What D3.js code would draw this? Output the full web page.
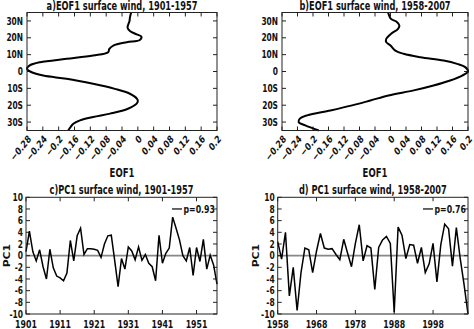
<!DOCTYPE html>
<html><head><meta charset="utf-8">
<script src="https://cdn.jsdelivr.net/npm/d3@7"></script>
<style>
html,body{margin:0;padding:0;background:#fff;}
svg text{font-family:'DejaVu Sans Condensed','DejaVu Sans',sans-serif;font-weight:bold;fill:#111;}
</style></head>
<body><svg id="c" width="474" height="329"></svg>
<script>
// ---- data ----
const eofALat = [35,32,30,26,24,22,20.7,18.7,17.4,15.4,13.4,11.4,9.5,7.5,5.5,3.5,1.6,0,-2.4,-4.3,-7.3,-10.3,-13.2,-16.2,-17.6,-19.1,-22.1,-25,-27,-29,-31,-33,-35];
const eofAVal = [-0.017,-0.02,-0.021,-0.026,-0.02,-0.003,0.009,0.005,-0.028,-0.062,-0.072,-0.075,-0.113,-0.18,-0.247,-0.274,-0.28,-0.272,-0.239,-0.18,-0.113,-0.058,-0.02,-0.002,0.0,-0.003,-0.025,-0.07,-0.113,-0.146,-0.163,-0.17,-0.176];
const eofBLat = [35,34.1,31.2,29.6,27.2,25.2,22.3,19.3,17.4,15.4,12.4,10.5,8.5,6.5,4.5,2.6,0,-2.4,-5.3,-8.3,-11.2,-14.2,-17.2,-20.1,-23.1,-26,-28,-30,-32,-35];
const eofBVal = [-0.006,-0.005,0.001,0.015,0.023,0.019,0.001,-0.011,-0.011,0.0,0.0125,0.034,0.077,0.137,0.172,0.193,0.2,0.185,0.154,0.111,0.06,-0.005,-0.052,-0.099,-0.155,-0.215,-0.234,-0.237,-0.22,-0.185];
const pcCStart = 1901;
const pcCVals = [0.7,4.2,0.7,-0.9,1.0,-1.9,-4.0,1.1,-2.1,-3.5,-3.8,-4.3,-3.0,2.6,-0.9,3.4,4.7,0.2,1.2,1.2,1.1,0.9,-0.3,2.0,3.4,3.5,-0.8,-5.3,-0.5,-2.3,1.5,0.8,-0.7,1.5,-0.8,0.2,-1.3,-1.9,-4.3,3.5,-1.3,0.4,1.3,6.6,4.7,2.7,0.0,-0.9,1.4,-3.4,1.4,-1.0,2.8,-2.3,0.1,-1.6,-4.9];
const pcDStart = 1958;
const pcDVals = [2.4,-0.6,4.0,-6.9,-2.0,-9.4,-2.9,1.3,1.0,-2.9,0.8,3.8,1.3,1.1,1.2,0.2,-0.7,2.8,0.4,-1.9,2.1,5.3,-0.9,1.7,1.3,-5.8,1.4,2.7,3.3,2.1,-9.7,4.9,3.5,-0.5,1.9,1.8,-1.3,1.4,-2.9,-1.4,2.1,-4.5,1.9,5.4,4.6,-1.8,4.8,-0.5,-5.0,-10.0];
const eofTicks = [-0.28,-0.24,-0.2,-0.16,-0.12,-0.08,-0.04,0,0.04,0.08,0.12,0.16,0.2];
const latTicks = [30,20,10,0,-10,-20,-30];
const latLabels = ["30N","20N","10N","0","10S","20S","30S"];
const pcTicks = [-10,-8,-6,-4,-2,0,2,4,6,8,10];
const yearTicksC = [1901,1911,1921,1931,1941,1951];
const yearTicksD = [1958,1968,1978,1988,1998];
const titles = ["a)EOF1 surface wind, 1901-1957","b)EOF1 surface wind, 1958-2007","c)PC1 surface wind, 1901-1957","d) PC1 surface wind, 1958-2007"];
const legendLabels = ["p=0.93","p=0.76"];

const svg = d3.select("#c");
const TL = 4;
const SX = 0.79; // horizontal squeeze of the lettering

function txt(g, x, y, s, size, anchor, rot, dy){
  return g.append("text")
    .attr("transform", `translate(${x},${y}) scale(${SX},1)` + (rot ? ` rotate(${rot})` : ""))
    .attr("text-anchor", anchor || "start")
    .attr("dy", dy || null)
    .style("font-size", size + "px")
    .text(s);
}

function frame(g, x0, x1, y0, y1){
  g.append("rect").attr("x",x0).attr("y",y0).attr("width",x1-x0).attr("height",y1-y0)
    .attr("fill","none").attr("stroke","#222").attr("stroke-width",1);
}

function eofPanel(lats, vals, x0, x1, title){
  const y0 = 12.5, y1 = 130.5;
  const x = d3.scaleLinear().domain([-0.28,0.2]).range([x0,x1]);
  const y = d3.scaleLinear().domain([35,-35]).range([y0,y1]);
  const g = svg.append("g");
  eofTicks.forEach(t=>{
    g.append("line").attr("x1",x(t)).attr("x2",x(t)).attr("y1",y0).attr("y2",y0+TL).attr("stroke","#222");
    g.append("line").attr("x1",x(t)).attr("x2",x(t)).attr("y1",y1).attr("y2",y1-TL).attr("stroke","#222");
    txt(g, x(t)+2.5, y1+6.5, d3.format("")(t), 10.5, "end", -45, "0.35em");
  });
  latTicks.forEach((t,i)=>{
    g.append("line").attr("x1",x0).attr("x2",x0+TL).attr("y1",y(t)).attr("y2",y(t)).attr("stroke","#222");
    g.append("line").attr("x1",x1).attr("x2",x1-TL).attr("y1",y(t)).attr("y2",y(t)).attr("stroke","#222");
    txt(g, x0-4, y(t), latLabels[i], 10.5, "end", 0, "0.35em");
  });
  const data = lats.map((l,i)=>[vals[i],l]);
  g.append("path").datum(data).attr("fill","none").attr("stroke","#000").attr("stroke-width",2)
    .attr("d", d3.line().x(d=>x(d[0])).y(d=>y(d[1])).curve(d3.curveCatmullRom));
  frame(g,x0,x1,y0,y1);
  txt(g, (x0+x1)/2, 10, title, 11.6, "middle");
  txt(g, (x0+x1)/2, 176.5, "EOF1", 12, "middle");
}

function pcPanel(start, vals, yearTicks, x0, x1, title, leg, ylabX){
  const y0 = 197.3, y1 = 314;
  const x = d3.scaleLinear().domain([start, start+vals.length-1]).range([x0,x1]);
  const y = d3.scaleLinear().domain([10,-10]).range([y0,y1]);
  const g = svg.append("g");
  g.append("line").attr("x1",x0).attr("x2",x1).attr("y1",y(0)).attr("y2",y(0)).attr("stroke","#888").attr("stroke-width",1.6);
  yearTicks.forEach(t=>{
    g.append("line").attr("x1",x(t)).attr("x2",x(t)).attr("y1",y0).attr("y2",y0+TL).attr("stroke","#222");
    g.append("line").attr("x1",x(t)).attr("x2",x(t)).attr("y1",y1).attr("y2",y1-TL).attr("stroke","#222");
    txt(g, x(t), 328, String(t), 11, "middle");
  });
  pcTicks.forEach(t=>{
    g.append("line").attr("x1",x0).attr("x2",x0+TL).attr("y1",y(t)).attr("y2",y(t)).attr("stroke","#222");
    g.append("line").attr("x1",x1).attr("x2",x1-TL).attr("y1",y(t)).attr("y2",y(t)).attr("stroke","#222");
    txt(g, x0-3, y(t), String(t), 10.6, "end", 0, "0.35em");
  });
  const data = vals.map((v,i)=>[start+i,v]);
  g.append("path").datum(data).attr("fill","none").attr("stroke","#000").attr("stroke-width",1.5)
    .attr("d", d3.line().x(d=>x(d[0])).y(d=>y(d[1])));
  frame(g,x0,x1,y0,y1);
  txt(g, (x0+x1)/2, 194, title, 11.6, "middle");
  txt(g, ylabX, (y0+y1)/2, "PC1", 12, "middle", -90, "0.35em");
  const ly = y(8);
  g.append("line").attr("x1",x1-45).attr("x2",x1-35).attr("y1",ly).attr("y2",ly).attr("stroke","#000").attr("stroke-width",1.2);
  txt(g, x1-33.5, ly, leg, 11, "start", 0, "0.35em");
}

eofPanel(eofALat, eofAVal, 27, 217, titles[0]);
eofPanel(eofBLat, eofBVal, 282, 468, titles[1]);
pcPanel(pcCStart, pcCVals, yearTicksC, 26, 217, titles[2], legendLabels[0], 7);
pcPanel(pcDStart, pcDVals, yearTicksD, 277.7, 468, titles[3], legendLabels[1], 256);
</script></body></html>
